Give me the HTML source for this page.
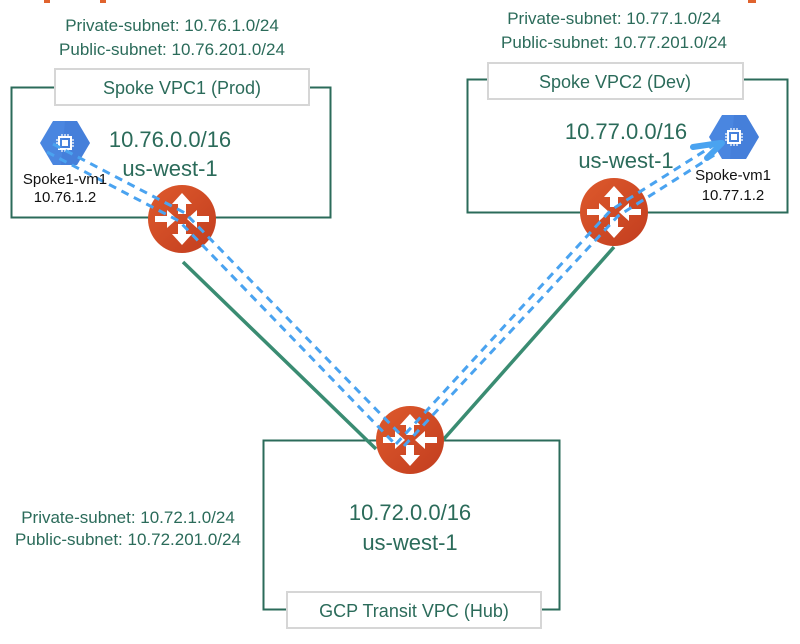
<!DOCTYPE html>
<html><head><meta charset="utf-8"><style>
body{margin:0;background:#fff}
svg{display:block}
.g{font-family:"Liberation Sans",sans-serif;fill:#2b6b5a}
.k{font-family:"Liberation Sans",sans-serif;fill:#111}
</style></head><body>
<svg width="800" height="644" viewBox="0 0 800 644" xmlns="http://www.w3.org/2000/svg">
<defs>
<linearGradient id="rg" x1="0" y1="0" x2="1" y2="1"><stop offset="0" stop-color="#de5a2c"/><stop offset="1" stop-color="#c23d1f"/></linearGradient>
<g id="router">
<circle r="34" fill="url(#rg)"/>
<g fill="#fff">
<path d="M0,-26 L-10,-15 L-4,-15 L-4,-5 L4,-5 L4,-15 L10,-15Z"/>
<path d="M0,26 L-10,15 L-4,15 L-4,5 L4,5 L4,15 L10,15Z"/>
<path d="M-5,0 L-15,-9 L-15,-3 L-27,-3 L-27,3 L-15,3 L-15,9Z"/>
<path d="M5,0 L15,-9 L15,-3 L27,-3 L27,3 L15,3 L15,9Z"/>
</g>
</g>
<g id="hex">
<polygon points="-25,0 -12,-22 12,-22 25,0 12,22 -12,22" fill="#4a86e0"/>
<polygon points="0,-22 12,-22 25,0 12,22 -4,22" fill="#3f78d4" opacity="0.5"/>
<rect x="-6" y="-6" width="12" height="12" fill="none" stroke="#fff" stroke-width="2"/>
<rect x="-3" y="-3" width="6" height="6" fill="#fff"/>
<path d="M-3,-9v3M0,-9v3M3,-9v3M-3,6v3M0,6v3M3,6v3M-9,-3h3M-9,0h3M-9,3h3M6,-3h3M6,0h3M6,3h3" stroke="#fff" stroke-width="1.2"/>
</g>
</defs>

<rect x="44" y="0" width="6" height="3" fill="#e0632e"/>
<rect x="100" y="0" width="6" height="3" fill="#e0632e"/>
<rect x="748" y="0" width="8" height="3" fill="#e0632e"/>

<rect x="11.5" y="87.5" width="319" height="130" fill="none" stroke="#2b6b5a" stroke-width="2"/>
<rect x="467.5" y="79.5" width="320" height="133" fill="none" stroke="#2b6b5a" stroke-width="2"/>
<rect x="263.5" y="440.5" width="296" height="169" fill="none" stroke="#2b6b5a" stroke-width="2"/>

<line x1="183" y1="262" x2="376" y2="449" stroke="#3a8c72" stroke-width="3.5"/>
<line x1="614" y1="247" x2="443" y2="440" stroke="#3a8c72" stroke-width="3.5"/>

<rect x="55" y="69" width="254" height="36" fill="#fff" stroke="#d6d6d6" stroke-width="2"/>
<text x="182" y="94" class="g" font-size="18" text-anchor="middle">Spoke VPC1 (Prod)</text>
<rect x="488" y="63" width="255" height="36" fill="#fff" stroke="#d6d6d6" stroke-width="2"/>
<text x="615" y="88" class="g" font-size="18" text-anchor="middle">Spoke VPC2 (Dev)</text>
<rect x="287" y="592" width="254" height="36" fill="#fff" stroke="#d6d6d6" stroke-width="2"/>
<text x="414" y="617" class="g" font-size="18" text-anchor="middle">GCP Transit VPC (Hub)</text>

<g class="g" font-size="17" text-anchor="middle">
<text x="172" y="31">Private-subnet: 10.76.1.0/24</text>
<text x="172" y="55">Public-subnet: 10.76.201.0/24</text>
<text x="614" y="24">Private-subnet: 10.77.1.0/24</text>
<text x="614" y="48">Public-subnet: 10.77.201.0/24</text>
<text x="128" y="523">Private-subnet: 10.72.1.0/24</text>
<text x="128" y="545">Public-subnet: 10.72.201.0/24</text>
</g>
<g class="g" font-size="22" text-anchor="middle">
<text x="170" y="147">10.76.0.0/16</text>
<text x="170" y="176">us-west-1</text>
<text x="626" y="139">10.77.0.0/16</text>
<text x="626" y="168">us-west-1</text>
<text x="410" y="520">10.72.0.0/16</text>
<text x="410" y="550">us-west-1</text>
</g>

<use href="#hex" x="65" y="143"/>
<use href="#hex" x="734" y="137"/>

<use href="#router" x="182" y="219"/>
<use href="#router" x="614" y="212"/>
<use href="#router" x="410" y="440"/>

<g fill="none" stroke="#4aa3f0" stroke-width="3" stroke-dasharray="8,6">
<polyline points="47,152 179,221 394,443"/>
<polyline points="53,144 185,213 401,435"/>
<polyline points="396,444 611,210 714,145"/>
<polyline points="404,446 618,216 719,152"/>
</g>
<g stroke="#4aa3f0" stroke-width="6" stroke-linecap="round" fill="none">
<line x1="693" y1="147" x2="720" y2="143"/>
<line x1="707" y1="158" x2="722" y2="143"/>
</g>

<g class="k" font-size="15" text-anchor="middle">
<text x="65" y="184">Spoke1-vm1</text>
<text x="65" y="202">10.76.1.2</text>
<text x="733" y="180">Spoke-vm1</text>
<text x="733" y="200">10.77.1.2</text>
</g>
</svg>
</body></html>
